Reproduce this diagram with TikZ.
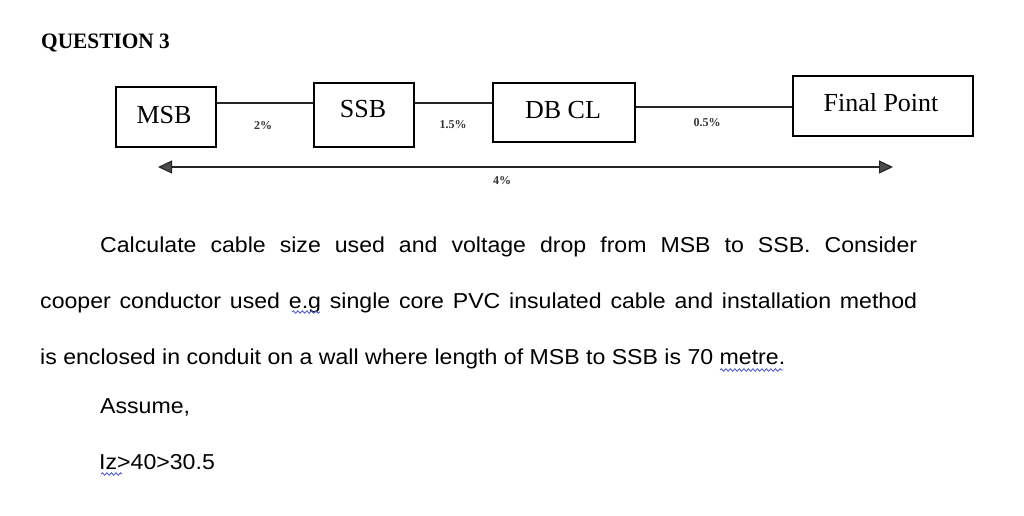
\documentclass[tikz,border=0pt]{standalone}
\usepackage{fontspec}
\setmainfont{Liberation Serif}
\newfontfamily\arialf[FakeStretch=1.07]{Liberation Sans}
\usetikzlibrary{arrows.meta,decorations.pathmorphing}
\definecolor{squig}{HTML}{4A55C8}
\tikzset{
  blk/.style={draw, line width=1.2pt, inner sep=0pt},
  lbl/.style={font=\fontsize{26}{28}\selectfont, inner sep=0pt},
  pct/.style={font=\bfseries\fontsize{12}{14}\selectfont, inner sep=0pt, text=black!80},
  wire/.style={line width=1.2pt, draw=black!85},
  body/.style={font=\arialf\fontsize{21.6}{24}\selectfont, inner sep=0pt, anchor=base west},
  wavy/.style={draw=squig, line width=0.8pt, decorate, decoration={snake, amplitude=1.3pt, segment length=4.5pt}}
}
\begin{document}
\begin{tikzpicture}[x=1pt,y=-1pt]
\useasboundingbox (0,0) rectangle (1024,515);
% title
\node[anchor=base west, inner sep=0pt, font=\bfseries\fontsize{22}{24}\selectfont] (title) at (41,48) {\scalebox{0.97}[1]{QUESTION 3}};
% boxes
\node[blk, minimum width=100pt, minimum height=60pt] (msb) at (166,117) {};
\node[blk, minimum width=100pt, minimum height=64pt] (ssb) at (364,115) {};
\node[blk, minimum width=142pt, minimum height=59pt] (dbcl) at (564,112.5) {};
\node[blk, minimum width=180pt, minimum height=60pt] (fp) at (883,106) {};
\node[lbl] (tmsb) at (164,115) {MSB};
\node[lbl] (tssb) at (363,109) {SSB};
\node[lbl] (tdb) at (563,110) {DB CL};
\node[lbl] (tfp) at (881,103) {Final Point};
% wires
\coordinate (w1) at (msb.east |- 0,103);
\coordinate (w2) at (ssb.west |- 0,103);
\coordinate (w3) at (ssb.east |- 0,103);
\coordinate (w4) at (dbcl.west |- 0,103);
\coordinate (w5) at (dbcl.east |- 0,107);
\coordinate (w6) at (fp.west |- 0,107);
\draw[wire] (w1) -- (w2);
\draw[wire] (w3) -- (w4);
\draw[wire] (w5) -- (w6);
\node[pct] (p1) at (263,126) {2\%};
\node[pct] (p2) at (453,125) {1.5\%};
\node[pct] (p3) at (707,123) {0.5\%};
% long arrow
\coordinate (aL) at (158,167);
\coordinate (aR) at (893,167);
\draw[line width=1.2pt, {Triangle[length=14pt,width=13pt,fill=black!70]}-{Triangle[length=14pt,width=13pt,fill=black!70]}, draw=black!85] (aL) -- (aR);
\node[pct] (p4) at (502,181) {4\%};
% body text
\node[body] (l1) at (100,252) {\hbox to 817pt{Calculate cable size used and voltage drop from MSB to SSB. Consider}};
\node[body] (l2) at (40,308) {\hbox to 877pt{cooper conductor used e.g single core PVC insulated cable and installation method}};
\node[body] (l3) at (40,364) {is enclosed in conduit on a wall where length of MSB to SSB is 70 metre.};
\node[body] (l4) at (100,413) {Assume,};
\node[body] (l5) at (99,469) {Iz>40>30.5};
% spell-check squiggles
\coordinate (s1a) at (292,312); \coordinate (s1b) at (320,312);
\coordinate (s2a) at (720,370); \coordinate (s2b) at (783,370);
\coordinate (s3a) at (101,474); \coordinate (s3b) at (122,474);
\draw[wavy] (s1a) -- (s1b);
\draw[wavy] (s2a) -- (s2b);
\draw[wavy] (s3a) -- (s3b);
\end{tikzpicture}
\end{document}
